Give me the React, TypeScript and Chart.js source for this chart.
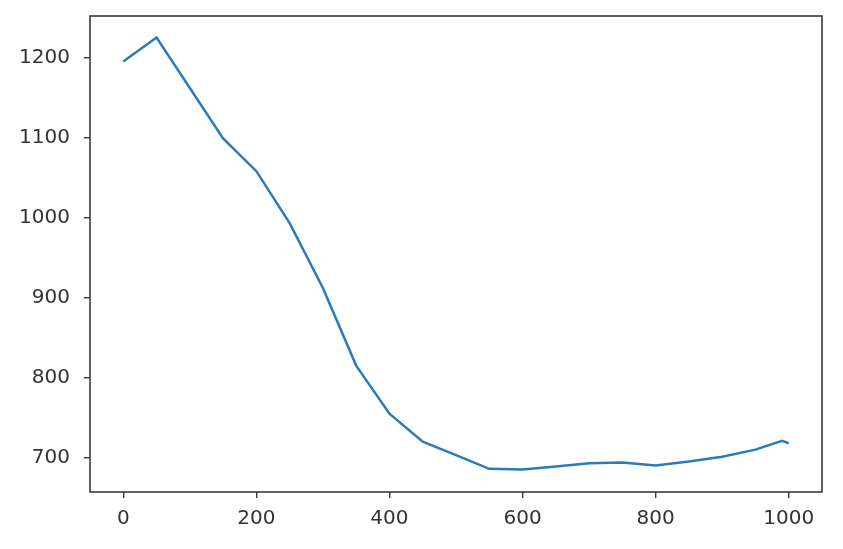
import React, { useEffect, useRef } from 'react'
import { Chart, ChartConfiguration, Plugin, registerables } from 'chart.js'

const xValues = [0, 50, 100, 150, 200, 250, 300, 350, 400, 450, 500, 550, 600, 650, 700, 750, 800, 850, 900, 950, 990, 1000]
const yValues = [1195, 1225, 1162, 1099, 1058, 993, 912, 815, 755, 720, 703, 686, 685, 689, 693, 694, 690, 695, 701, 710, 721, 718]

const xTicks = [0, 200, 400, 600, 800, 1000]
const yTicks = [700, 800, 900, 1000, 1100, 1200]

// matplotlib-style box around the axes
const framePlugin: Plugin = {
  id: 'frame',
  afterDraw(chart) {
    const { ctx, chartArea } = chart
    ctx.save()
    ctx.strokeStyle = '#3a3a3a'
    ctx.lineWidth = 1.6
    ctx.strokeRect(chartArea.left, chartArea.top, chartArea.right - chartArea.left, chartArea.bottom - chartArea.top)
    ctx.restore()
  },
}

const LineChart = () => {
  const chartRef = useRef<any>()

  useEffect(() => {
    Chart.register(...registerables)

    const font = { family: 'DejaVu Sans', size: 20 }

    const chartConfig: ChartConfiguration = {
      type: 'line',
      data: {
        datasets: [
          {
            data: xValues.map((x, i) => ({ x, y: yValues[i] })),
            borderColor: '#2b7bba',
            borderWidth: 2.5,
            fill: false,
            tension: 0,
          },
        ],
      },
      options: {
        animation: false,
        responsive: true,
        maintainAspectRatio: false,
        layout: { padding: { left: 0, right: 21, top: 16, bottom: 0 } },
        elements: { point: { radius: 0 } },
        scales: {
          x: {
            type: 'linear',
            min: -50,
            max: 1050,
            border: { display: false },
            grid: { drawOnChartArea: false, drawTicks: true, tickLength: 6, tickColor: '#3a3a3a', lineWidth: 1.4 },
            afterBuildTicks: (scale: any) => {
              scale.ticks = xTicks.map((value) => ({ value }))
            },
            afterFit: (scale: any) => {
              scale.height = 57
              scale.paddingLeft = 0
              scale.paddingRight = 0
            },
            ticks: { font, color: '#333', padding: 9, maxRotation: 0, callback: (v: any) => String(v) },
          },
          y: {
            type: 'linear',
            min: 657,
            max: 1252,
            border: { display: false },
            grid: { drawOnChartArea: false, drawTicks: true, tickLength: 6, tickColor: '#3a3a3a', lineWidth: 1.4 },
            afterBuildTicks: (scale: any) => {
              scale.ticks = yTicks.map((value) => ({ value }))
            },
            afterFit: (scale: any) => {
              scale.width = 90
              scale.paddingTop = 0
              scale.paddingBottom = 0
            },
            ticks: { font, color: '#333', padding: 14, callback: (v: any) => String(v) },
          },
        },
        plugins: {
          legend: { display: false },
          tooltip: { enabled: false },
        },
      },
      plugins: [framePlugin],
    }

    const chart = new Chart(chartRef.current, chartConfig)

    return () => {
      chart.destroy()
    }
  }, [])

  return <canvas ref={chartRef}></canvas>
}

const App = () => (
  <div style={{ position: 'fixed', left: 0, top: 0, width: 843, height: 549, background: '#fff' }}>
    <LineChart />
  </div>
)

export default App
